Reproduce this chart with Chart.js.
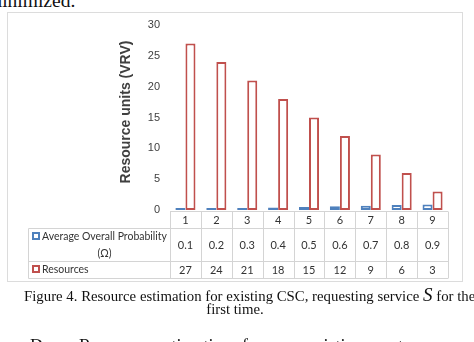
<!DOCTYPE html>
<html><head><meta charset="utf-8">
<script src="https://cdn.jsdelivr.net/npm/chart.js@4.4.1/dist/chart.umd.min.js"></script>
<style>
html,body{margin:0;padding:0;background:#fff;width:474px;height:342px;overflow:hidden;}
body{position:relative;}
#frame{position:absolute;left:7px;top:12px;width:456px;height:270px;border:1px solid #dcdcdc;box-sizing:border-box;}
#wrap{position:absolute;left:0;top:0;width:474px;height:342px;}
.cap{position:absolute;font-family:"Liberation Serif","Times New Roman",serif;color:#111;white-space:nowrap;}
.cap i{line-height:0;}
</style></head><body>
<div class="cap" id="t0" style="left:-13px;top:-8.6px;font-size:19.5px;line-height:20px;">minimized.</div>
<div id="frame"></div>
<div id="wrap"><canvas id="c" width="474" height="342"></canvas></div>
<div class="cap" id="l1" style="left:24px;top:289px;font-size:14.8px;line-height:15px;">Figure 4. Resource estimation for existing CSC, requesting service <i style="font-size:19px;">S</i> for the</div>
<div class="cap" id="l2" style="left:0;width:470px;text-align:center;top:301.5px;font-size:14.8px;line-height:15px;">first time.</div>
<div class="cap" id="l3" style="left:30px;top:337px;font-size:18px;line-height:18px;word-spacing:6px;">D.&nbsp;&nbsp; Resource estimation for non-existing customer</div>
<script>
// ---- data ----
const categories = ['1','2','3','4','5','6','7','8','9'];
const probability = [0.1,0.2,0.3,0.4,0.5,0.6,0.7,0.8,0.9];
const resources = [27,24,21,18,15,12,9,6,3];
const seriesNames = ['Average Overall Probability', '(\u03A9)', 'Resources'];
const yTicks = [0,5,10,15,20,25,30];
const yTitle = 'Resource units (VRV)';

const BLUE = '#4f81bd', RED = '#c0504d', GRID = '#d4d4d4', TXT = '#333333';
const tableFont = '11px Lato, "Liberation Sans", sans-serif';

const tablePlugin = {
  id: 'dataTable',
  afterDraw(chart) {
    const {ctx, chartArea, scales: {x}} = chart;
    const step = x.getPixelForValue(1) - x.getPixelForValue(0);
    const left = x.getPixelForValue(0) - step / 2;
    const right = x.getPixelForValue(categories.length - 1) + step / 2;
    const top = chartArea.bottom + 1.5;
    const r1 = 228.5, r2 = 261.5, r3 = 278.5, tl = 28.5;
    ctx.save();
    // y axis title
    ctx.save();
    ctx.translate(126, 112);
    ctx.rotate(-Math.PI / 2);
    ctx.font = 'bold 14px "Liberation Sans", Arial, sans-serif';
    ctx.fillStyle = '#404040';
    ctx.textAlign = 'center'; ctx.textBaseline = 'middle';
    ctx.fillText(yTitle, 0, 0);
    ctx.restore();

    ctx.strokeStyle = GRID; ctx.lineWidth = 1;
    ctx.beginPath();
    ctx.moveTo(left, top); ctx.lineTo(right, top);
    ctx.moveTo(tl, r1); ctx.lineTo(right, r1);
    ctx.moveTo(tl, r2); ctx.lineTo(right, r2);
    ctx.moveTo(tl, r3); ctx.lineTo(right, r3);
    ctx.moveTo(tl, r1); ctx.lineTo(tl, r3);
    for (let i = 0; i <= categories.length; i++) {
      const xx = Math.round(left + i * step) + 0.5;
      ctx.moveTo(xx, top); ctx.lineTo(xx, r3);
    }
    ctx.stroke();
    ctx.fillStyle = TXT; ctx.font = tableFont;
    ctx.textAlign = 'center'; ctx.textBaseline = 'middle';
    categories.forEach((c, i) => {
      const cx = x.getPixelForValue(i);
      ctx.fillText(c, cx, 220);
      ctx.fillText(String(probability[i]), cx, 245);
      ctx.fillText(String(resources[i]), cx, 270);
    });
    // legend keys
    ctx.lineWidth = 2;
    ctx.strokeStyle = BLUE; ctx.strokeRect(33, 233, 6, 6);
    ctx.strokeStyle = RED; ctx.strokeRect(33, 266, 6, 6);
    // legend labels, squeezed horizontally like the narrow original font
    const w0 = ctx.measureText(seriesNames[0]).width;
    const sx = Math.min(1, 125 / w0);
    ctx.save();
    ctx.translate(42, 0);
    ctx.scale(sx, 1);
    ctx.textAlign = 'left';
    ctx.fillText(seriesNames[0], 0, 236.5);
    ctx.textAlign = 'center';
    ctx.fillText(seriesNames[1], w0 / 2, 253);
    ctx.textAlign = 'left';
    ctx.fillText(seriesNames[2], 0, 269.5);
    ctx.restore();
    ctx.restore();
  }
};

new Chart(document.getElementById('c'), {
  type: 'bar',
  data: {
    labels: categories,
    datasets: [
      {label: seriesNames[0] + ' ' + seriesNames[1], data: probability, backgroundColor: '#ffffff', borderColor: BLUE,
       borderWidth: 2, borderSkipped: false, minBarLength: 2, categoryPercentage: 0.65, barPercentage: 1},
      {label: seriesNames[2], data: resources, backgroundColor: '#ffffff', borderColor: RED,
       borderWidth: 2, borderSkipped: false, categoryPercentage: 0.65, barPercentage: 1}
    ]
  },
  options: {
    responsive: false, animation: false, devicePixelRatio: 1,
    layout: {padding: {left: 110, right: 26, top: 25, bottom: 132}},
    plugins: {legend: {display: false}, tooltip: {enabled: false}, title: {display: false}},
    scales: {
      x: {display: false, offset: true},
      y: {
        min: yTicks[0], max: yTicks[yTicks.length - 1],
        afterBuildTicks(s) { s.ticks = yTicks.map(v => ({value: v})); },
        afterFit(s) { s.width = 60; },
        ticks: {padding: 10, color: '#404040', font: {family: 'Liberation Sans', size: 11}},
        grid: {display: false, drawTicks: false},
        border: {display: false},
        title: {display: false}
      }
    }
  },
  plugins: [tablePlugin]
});
</script>
</body></html>
